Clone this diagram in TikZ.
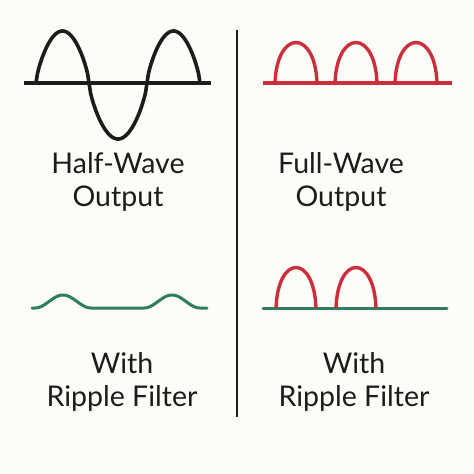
\documentclass[tikz,border=0pt]{standalone}
\usepackage{fontspec}
\setmainfont{Lato}
\usetikzlibrary{arrows}
\definecolor{ink}{HTML}{1C1C1C}
\definecolor{rectred}{HTML}{CC2F3A}
\definecolor{filtgreen}{HTML}{2F7D5E}
\definecolor{paper}{HTML}{FCFCF9}

\begin{document}
\begin{tikzpicture}[x=1pt,y=-1pt]

\tikzstyle{lbl} = [align=center, text=ink, font=\fontsize{28.5}{33}\selectfont]
\tikzstyle{blk} = [draw=ink, line width=3.6pt]
\tikzstyle{red} = [draw=rectred, line width=3.4pt]
\tikzstyle{grn} = [draw=filtgreen, line width=3pt, line cap=round]
\fill[paper] (0,0) rectangle (474,474);
\useasboundingbox (0,0) rectangle (474,474);
% divider
\draw[ink, line width=2.2pt] (237,30) -- (237,417);
% half-wave input
\draw[blk] (24,83) -- (211,83);
\draw[blk] plot[domain=36:89, samples=40] (\x, {83 - 52*pow(abs(sin((\x-36)/53*180)),0.7)})
  -- plot[domain=89:147, samples=40] (\x, {83 + 56*pow(abs(sin((\x-89)/58*180)),0.7)})
  -- plot[domain=147:200, samples=40] (\x, {83 - 52*pow(abs(sin((\x-147)/53*180)),0.7)});
% full-wave output
\draw[red] (263,83) -- (452,83);
\foreach \s in {275,335,395}
  \draw[red] (\s,83) .. controls (\s+2,29) and (\s+40,29) .. (\s+42,83);
% ripple, left
\draw[grn] (32,308) -- plot[domain=35:91, samples=40] (\x, {308 - 6.5*(1-cos((\x-35)/56*360))})
  -- plot[domain=144:200, samples=40] (\x, {308 - 6.5*(1-cos((\x-144)/56*360))}) -- (207,308);
% ripple, right
\draw[grn] (263,308) -- (447,308);
\foreach \s in {276,336}
  \draw[red] (\s,308) .. controls (\s+2,254) and (\s+38,254) .. (\s+40,308);
\node (halfout) [lbl] at (118,182) {Half-Wave\\Output};
\node (fullout) [lbl] at (341,182) {Full-Wave\\Output};
\node (halfrip) [lbl] at (122,382) {With\\Ripple Filter};
\node (fullrip) [lbl] at (354,382) {With\\Ripple Filter};
\end{tikzpicture}
\end{document}
